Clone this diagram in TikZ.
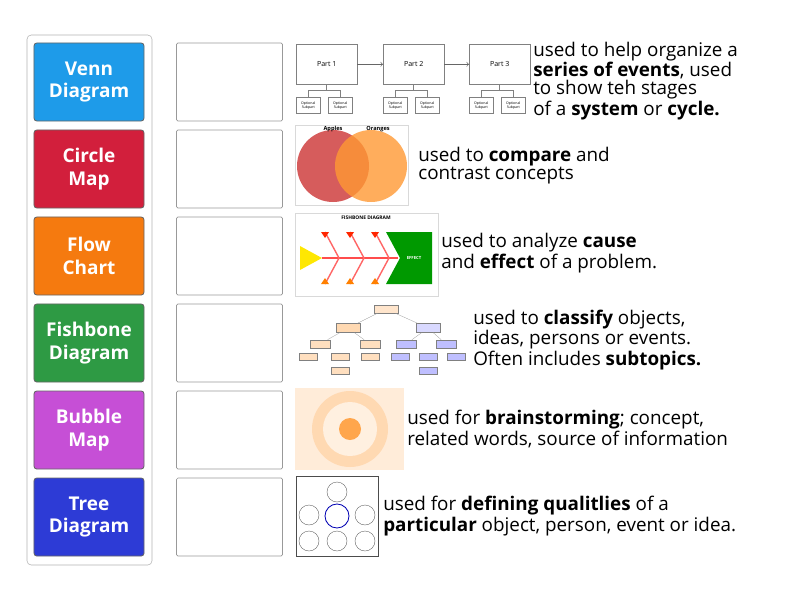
\documentclass[tikz,border=0pt]{standalone}
\usepackage{fontspec}
\setmainfont{Open Sans}
\usetikzlibrary{positioning}
\definecolor{cVenn}{HTML}{1E9BE9}
\definecolor{cCirc}{HTML}{D21F3C}
\definecolor{cFlow}{HTML}{F57A0F}
\definecolor{cFish}{HTML}{2E9A44}
\definecolor{cBubb}{HTML}{C64FD6}
\definecolor{cTree}{HTML}{2D3BD6}
\tikzset{
  card/.style={draw=black!60,line width=0.6pt,rounded corners=2pt,minimum width=2.75cm,minimum height=1.95cm,inner sep=0pt,
    align=center,text=white,font=\bfseries\fontsize{13.5}{16}\selectfont},
  slot/.style={draw=black!40,rounded corners=1pt,minimum width=2.65cm,minimum height=1.95cm},
  desc/.style={anchor=west,align=left,inner sep=0pt,font=\fontsize{13.4}{12.9}\selectfont},
  tiny/.style={draw=black!50,fill=white,inner sep=0pt,font=\fontsize{2.5}{3}\selectfont},
}
\begin{document}
\begin{tikzpicture}[x=0.025cm,y=-0.025cm]
\useasboundingbox (0,0) rectangle (800,600);
\draw[black!30,rounded corners=3pt] (27,35) rectangle (152,565);
% cards and slots
\foreach \c/\t [count=\i from 0] in {cVenn/{Venn\\Diagram},cCirc/{Circle\\Map},cFlow/{Flow\\Chart},cFish/{Fishbone\\Diagram},cBubb/{Bubble\\Map},cTree/{Tree\\Diagram}}{
  \node[card,fill=\c] (card\i) at (89,{82+87*\i}) {\t};
  \node[slot] (slot\i) at (229.5,{82+87*\i}) {};
}
% flow chart thumbnail
\foreach \x/\n in {296/1,383/2,469/3}{
  \node[tiny,minimum width=1.52cm,minimum height=1cm,anchor=north west,font=\fontsize{5}{6}\selectfont] (p\n) at (\x,44) {Part \n};
  \node[tiny,minimum width=0.6cm,minimum height=0.4cm,anchor=north west,align=center] (q\n) at (\x,97) {Optional\\Subpart};
  \node[tiny,minimum width=0.6cm,minimum height=0.4cm,anchor=north west,align=center] (r\n) at (\x+32,97) {Optional\\Subpart};
  \draw[black!50,line width=0.3pt] (p\n.south) -- ++(0,6) -| (q\n.north);
  \draw[black!50,line width=0.3pt] (p\n.south) ++(0,6) -| (r\n.north);
}
\draw[->,black!60,line width=0.4pt] (p1) -- (p2);
\draw[->,black!60,line width=0.4pt] (p2) -- (p3);
% venn thumbnail
\draw[black!15] (295,125) rectangle (408,205);
\fill[red!75!black!80,opacity=0.8] (333,166) circle (36);
\fill[orange!80,opacity=0.8] (371,166) circle (36);
\node[font=\bfseries\fontsize{4}{5}\selectfont] (apl) at (333,129) {Apples};
\node[font=\bfseries\fontsize{4}{5}\selectfont] (org) at (378,129) {Oranges};
% fishbone thumbnail
\draw[black!15] (295,213) rectangle (438,296);
\node[font=\bfseries\fontsize{3.5}{4}\selectfont] (fbt) at (366,218) {FISHBONE DIAGRAM};
\fill[yellow!90!orange] (300,246) -- (322,258) -- (300,270) -- cycle;
\draw[red!70,line width=1.2pt] (322,258) -- (398,258);
\fill[green!60!black] (386,232) -- (400,258) -- (386,284) -- (432,284) -- (432,232) -- cycle;
\node[white,font=\bfseries\fontsize{3}{4}\selectfont] (eff) at (414,258) {EFFECT};
\foreach \x in {325,350,375}{
  \draw[red!60,line width=1pt] (\x,232) -- (\x+14,258) -- (\x,284);
  \fill[red!70!orange] (\x-4,232) -- (\x+4,232) -- (\x,238) -- cycle;
  \fill[orange] (\x-4,284) -- (\x+4,284) -- (\x,278) -- cycle;
}
% tree thumbnail
\node[tiny,fill=orange!20,minimum width=0.6cm,minimum height=0.2cm] (t0) at (386,309) {};
\node[tiny,fill=orange!30,minimum width=0.6cm,minimum height=0.22cm] (t1) at (348,328) {};
\node[tiny,fill=blue!15,minimum width=0.6cm,minimum height=0.22cm] (t2) at (428,328) {};
\foreach \x/\n/\p/\c in {320/a/t1/orange,370/b/t1/orange,406/c/t2/blue,446/d/t2/blue}{
  \node[tiny,fill=\c!25,minimum width=0.5cm,minimum height=0.2cm] (t\n) at (\x,344) {};
  \draw[black!40,line width=0.2pt] (\p) -- (t\n);
}
\draw[black!40,line width=0.2pt] (t0) -- (t1) (t0) -- (t2);
\foreach \x/\y/\c in {308/357/orange,340/357/orange,340/371/orange,370/357/orange,400/357/blue,428/357/blue,428/371/blue,456/357/blue}{
  \node[tiny,fill=\c!25,minimum width=0.45cm,minimum height=0.17cm] at (\x,\y) {};
}
% bubble thumbnail
\fill[orange!15] (295,388) rectangle (404,470);
\fill[orange!30] (350,429) circle (38);
\fill[orange!12] (350,429) circle (27);
\fill[orange!70] (350,429) circle (11);
% circle map thumbnail
\draw[black!70] (296,476) rectangle (378,556);
\foreach \x/\y in {337/492,309/515,365/515,309/541,365/541,337/541}{
  \draw[black!60,line width=0.3pt] (\x,\y) circle (10);
}
\draw[blue!70!black,line width=0.6pt] (337,516) circle (12);
% descriptions
\node[desc] (d0) at (533,81) {used to help organize a\\\textbf{series of events}, used\\to show teh stages\\of a \textbf{system} or \textbf{cycle.}};
\node[desc] (d1) at (418,166) {used to \textbf{compare} and\\contrast concepts};
\node[desc] (d2) at (441,253) {used to analyze \textbf{cause}\\and \textbf{effect} of a problem.};
\node[desc] (d3) at (473,340) {used to \textbf{classify} objects,\\ideas, persons or events.\\Often includes \textbf{subtopics.}};
\node[desc] (d4) at (407,429) {used for \textbf{brainstorming}; concept,\\related words, source of information};
\node[desc] (d5) at (383,516) {used for \textbf{defining qualitlies} of a\\\textbf{particular} object, person, event or idea.};
\end{tikzpicture}
\end{document}
